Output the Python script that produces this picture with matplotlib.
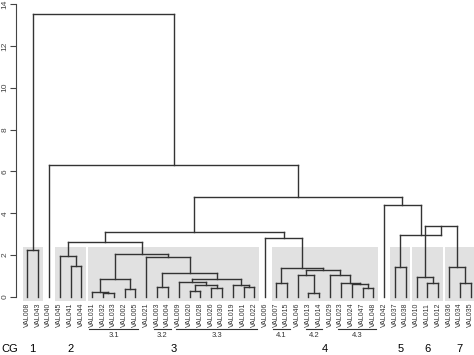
import matplotlib
matplotlib.use("Agg")
import matplotlib.pyplot as plt
import matplotlib.patches as patches

plt.rcParams['font.family'] = ['Liberation Sans', 'DejaVu Sans']

# ==========================================
# 数据：叶子顺序、合并树（名称, 左, 右, 高度）
# ==========================================
leaves = ["VAL008", "VAL043", "VAL040", "VAL045", "VAL041", "VAL044",
          "VAL031", "VAL032", "VAL033", "VAL002", "VAL005", "VAL021",
          "VAL003", "VAL004", "VAL009", "VAL020", "VAL028", "VAL026",
          "VAL030", "VAL019", "VAL001", "VAL022", "VAL006", "VAL007",
          "VAL015", "VAL046", "VAL013", "VAL014", "VAL029", "VAL023",
          "VAL024", "VAL047", "VAL048", "VAL042", "VAL037", "VAL038",
          "VAL010", "VAL011", "VAL012", "VAL036", "VAL034", "VAL035"]

merges = [
    ("g1", "VAL008", "VAL043", 2.25),
    ("a1", "VAL041", "VAL044", 1.48),
    ("g2", "VAL045", "a1", 1.97),
    ("b1", "VAL032", "VAL033", 0.20),
    ("b2", "VAL031", "b1", 0.25),
    ("b3", "VAL002", "VAL005", 0.37),
    ("s31", "b2", "b3", 0.86),
    ("s32", "VAL003", "VAL004", 0.49),
    ("c1", "VAL020", "VAL028", 0.30),
    ("c2", "VAL026", "VAL030", 0.45),
    ("c3", "c1", "c2", 0.55),
    ("c4", "VAL009", "c3", 0.70),
    ("c5", "VAL001", "VAL022", 0.50),
    ("c6", "VAL019", "c5", 0.55),
    ("s33", "c4", "c6", 0.86),
    ("d1", "s32", "s33", 1.13),
    ("d2", "VAL021", "d1", 1.93),
    ("g3", "s31", "d2", 2.05),
    ("e1", "g2", "g3", 2.63),
    ("s41", "VAL007", "VAL015", 0.68),
    ("s42", "VAL013", "VAL014", 0.18),
    ("f1", "VAL046", "s42", 1.05),
    ("f2", "VAL047", "VAL048", 0.42),
    ("f3", "VAL024", "f2", 0.61),
    ("f4", "VAL023", "f3", 0.68),
    ("s43", "VAL029", "f4", 1.05),
    ("f5", "f1", "s43", 1.30),
    ("g4", "s41", "f5", 1.38),
    ("f6", "VAL006", "g4", 2.83),
    ("e2", "e1", "f6", 3.12),
    ("g5", "VAL037", "VAL038", 1.42),
    ("h1", "VAL011", "VAL012", 0.65),
    ("g6", "VAL010", "h1", 0.97),
    ("h2", "VAL034", "VAL035", 0.65),
    ("g7", "VAL036", "h2", 1.45),
    ("h3", "g6", "g7", 3.39),
    ("h4", "g5", "h3", 2.96),
    ("h5", "VAL042", "h4", 4.40),
    ("e3", "e2", "h5", 4.79),
    ("e4", "VAL040", "e3", 6.30),
    ("root", "g1", "e4", 13.50),
]

# 分组（CG）与子组
groups = ["1", "2", "3", "4", "5", "6", "7"]
group_span = [("VAL008", "VAL043"), ("VAL045", "VAL044"), ("VAL031", "VAL022"),
              ("VAL007", "VAL048"), ("VAL037", "VAL038"), ("VAL010", "VAL012"),
              ("VAL036", "VAL035")]
subgroups = ["3.1", "3.2", "3.3", "4.1", "4.2", "4.3"]
sub_span = [("VAL031", "VAL005"), ("VAL003", "VAL004"), ("VAL009", "VAL022"),
            ("VAL007", "VAL015"), ("VAL013", "VAL014"), ("VAL023", "VAL048")]

# ==========================================
# 绘图
# ==========================================
fig = plt.figure(figsize=(4.74, 3.55), dpi=100)
ax = fig.add_axes([16 / 474, 0.1516, 458 / 474, 0.8372])

pos = {name: i for i, name in enumerate(leaves)}
hgt = {name: 0.0 for name in leaves}

line_kw = dict(color="#333333", lw=1.0, solid_capstyle="projecting")

# 灰色背景框
for a, b in group_span:
    x0, x1 = pos[a] - 0.42, pos[b] + 0.42
    ax.add_patch(patches.Rectangle((x0, -0.18), x1 - x0, 2.58,
                                   fc="#e1e1e1", ec="none", zorder=0))

# 树状图连线
for name, l, r, h in merges:
    xl, xr = pos[l], pos[r]
    ax.plot([xl, xl], [hgt[l], h], **line_kw)
    ax.plot([xr, xr], [hgt[r], h], **line_kw)
    ax.plot([xl, xr], [h, h], **line_kw)
    pos[name] = (xl + xr) / 2
    hgt[name] = h

# 叶子标签
for i, name in enumerate(leaves):
    ax.text(i, -0.27, name, rotation=90, ha="center", va="top",
            fontsize=5, color="#333333", clip_on=False)

# 子组下划线与标签
for lab, (a, b) in zip(subgroups, sub_span):
    x0, x1 = pos[a] - 0.25, pos[b] + 0.25
    ax.plot([x0, x1], [-1.53, -1.53], color="#333333", lw=0.8, clip_on=False)
    ax.text((x0 + x1) / 2, -1.86, lab, ha="center", va="center",
            fontsize=5.5, color="#333333", clip_on=False)

# CG 分组编号
ax.text(-1.6, -2.47, "CG", ha="center", va="center", fontsize=8, clip_on=False)
for lab, (a, b) in zip(groups, group_span):
    ax.text((pos[a] + pos[b]) / 2, -2.47, lab, ha="center", va="center",
            fontsize=8, clip_on=False)

ax.set_xlim(-1.04, 41.3)
ax.set_ylim(-0.2, 14)
ax.set_xticks([])
ax.set_yticks(range(0, 15, 2))
ax.set_yticklabels([str(v) for v in range(0, 15, 2)], rotation=90,
                   va="center", fontsize=6, color="#444444")
ax.tick_params(axis="y", length=4, width=0.8, pad=1.5, colors="#444444")
for s in ["top", "right", "bottom"]:
    ax.spines[s].set_visible(False)
ax.spines["left"].set_bounds(0, 14)
ax.spines["left"].set_color("#444444")
ax.spines["left"].set_linewidth(0.8)
ax.patch.set_alpha(0)

fig.savefig("out.png", dpi=100)
